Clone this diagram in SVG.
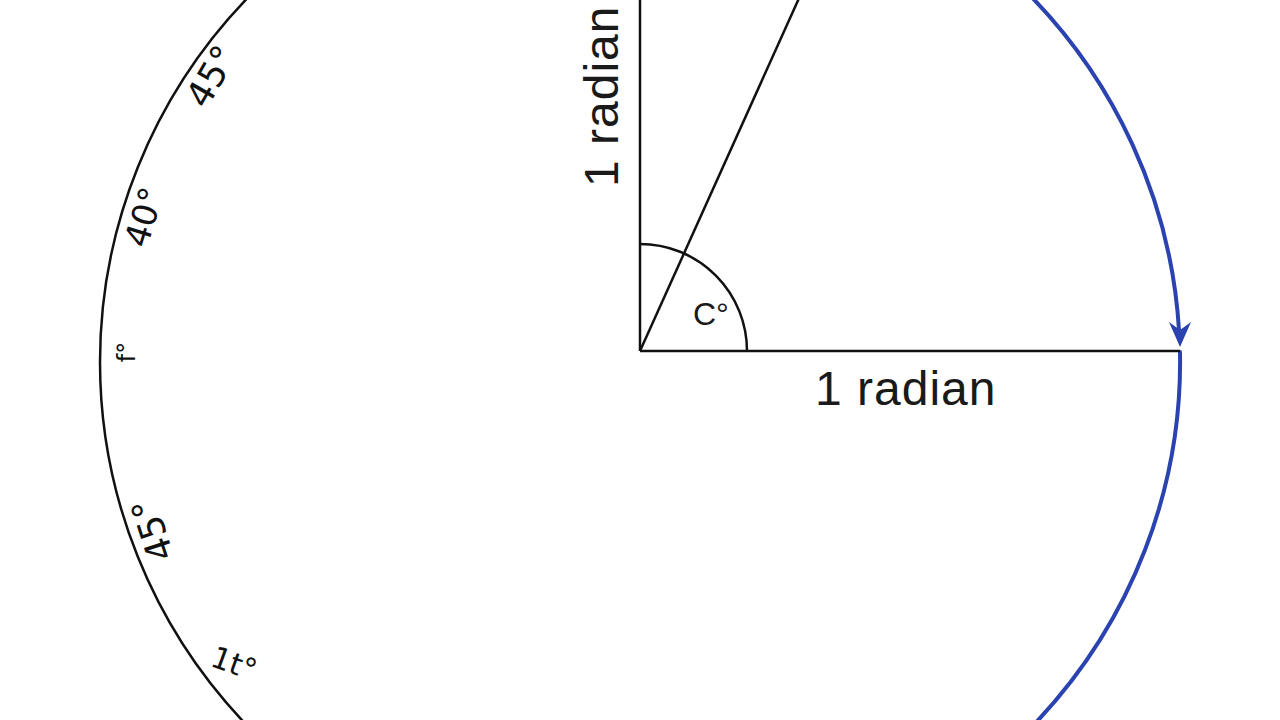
<svg xmlns="http://www.w3.org/2000/svg" width="1280" height="720" viewBox="0 0 1280 720">
  <style>
    .ln { fill: none; stroke: #111; stroke-width: 2.5; }
    .blue { fill: none; stroke: #2a43b0; stroke-width: 4; stroke-linecap: round; }
    .lbl { font-family: "Liberation Sans", Arial, sans-serif; font-size: 48px; fill: #1a1a1a; letter-spacing: 1px; }
    .deg { font-family: "DejaVu Sans", "Noto Sans", sans-serif; fill: #111; }
  </style>
  <rect width="1280" height="720" fill="#ffffff"/>

  <g id="circle">
    <path class="ln" d="M 640 -168 A 540 530 0 0 0 640 892"/>
  </g>

  <g id="connectors">
    <path class="blue" d="M 640 -168 A 540 530 0 0 1 1179 330"/>
    <path class="blue" d="M 1180 352 A 540 530 0 0 1 640 892"/>
    <polygon points="1180,347 1169,322 1180,330 1191,322" fill="#2a43b0"/>
  </g>

  <g id="radius-lines">
    <line class="ln" x1="640" y1="-5" x2="640" y2="351"/>
    <line class="ln" x1="640" y1="351" x2="1180" y2="351"/>
    <line class="ln" x1="640" y1="351" x2="800" y2="-4"/>
    <path class="ln" d="M 640 244 A 107 107 0 0 1 747 351"/>
  </g>

  <g id="label-angle">
    <text class="lbl" x="693" y="325" style="font-size:32px;letter-spacing:0">C°</text>
  </g>

  <g id="label-horizontal">
    <text class="lbl" x="815" y="405">1 radian</text>
  </g>

  <g id="label-vertical">
    <text class="lbl" x="0" y="0" transform="translate(618 187) rotate(-90)">1 radian</text>
  </g>

  <g id="degree-labels">
    <text class="deg" font-size="36" text-anchor="middle" transform="translate(211 76) rotate(-60) translate(0 13)">45°</text>
    <text class="deg" font-size="34" text-anchor="middle" transform="translate(144 217) rotate(-73) translate(0 12)">40°</text>
    <text class="deg" font-size="24" text-anchor="middle" transform="translate(127 352) rotate(-90) translate(0 8)">f°</text>
    <text class="deg" font-size="36" text-anchor="middle" transform="translate(152 530) rotate(-108) translate(0 13)">45°</text>
    <text class="deg" font-size="30" text-anchor="middle" transform="translate(234 664) rotate(20) translate(0 10)">1t°</text>
  </g>
</svg>
